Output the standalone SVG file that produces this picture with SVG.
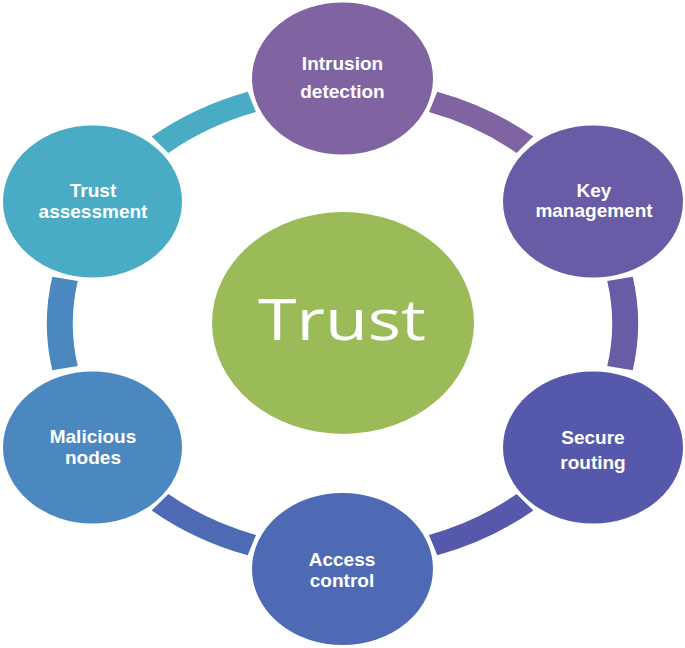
<svg xmlns="http://www.w3.org/2000/svg" width="685" height="648" viewBox="0 0 685 648">
<style>
.band{fill:none;stroke-width:21.5;stroke-linecap:butt}
.node{stroke:#ffffff;stroke-width:2}
.lbl{font-family:"Liberation Sans",Arial,sans-serif;font-weight:bold;font-size:19px;fill:#ffffff;text-anchor:middle}
.big{font-family:"Open Sans","Liberation Sans",sans-serif;font-size:56px;fill:#ffffff;text-anchor:middle}
</style>
<rect width="685" height="648" fill="#ffffff"/>
<g id="connectors" transform="translate(342.5 323.5) scale(1.208 1)">
<path class="band" stroke="#4AABC5" d="M -151.05 -178.73 A 234 234 0 0 1 -75.02 -221.65"/>
<path class="band" stroke="#8064A2" d="M 75.02 -221.65 A 234 234 0 0 1 151.05 -178.73"/>
<path class="band" stroke="#6A5BA6" d="M 229.70 -44.65 A 234 234 0 0 1 229.70 44.65"/>
<path class="band" stroke="#5558AB" d="M 151.05 178.73 A 234 234 0 0 1 75.02 221.65"/>
<path class="band" stroke="#4F6AB5" d="M -75.02 221.65 A 234 234 0 0 1 -151.05 178.73"/>
<path class="band" stroke="#4B88BF" d="M -229.70 44.65 A 234 234 0 0 1 -229.70 -44.65"/>
</g>
<g id="center">
<ellipse cx="343" cy="323" rx="131" ry="111" fill="#9BBB59"/>
<text class="big" x="342" y="340" textLength="168" lengthAdjust="spacingAndGlyphs">Trust</text>
</g>
<g id="intrusion-detection">
<ellipse class="node" cx="342.5" cy="78.5" rx="91.5" ry="77" fill="#8064A2"/>
<text class="lbl" x="342.5" y="70">Intrusion</text>
<text class="lbl" x="342.5" y="98">detection</text>
</g>
<g id="key-management">
<ellipse class="node" cx="593" cy="201.5" rx="91" ry="77" fill="#6A5BA6"/>
<text class="lbl" x="594" y="197">Key</text>
<text class="lbl" x="594" y="217">management</text>
</g>
<g id="secure-routing">
<ellipse class="node" cx="593" cy="447.5" rx="91" ry="77" fill="#5558AB"/>
<text class="lbl" x="593" y="444">Secure</text>
<text class="lbl" x="593" y="469">routing</text>
</g>
<g id="access-control">
<ellipse class="node" cx="342.5" cy="569" rx="91.5" ry="77" fill="#4F6AB5"/>
<text class="lbl" x="342" y="566">Access</text>
<text class="lbl" x="342" y="587">control</text>
</g>
<g id="malicious-nodes">
<ellipse class="node" cx="92.5" cy="447.5" rx="90.5" ry="77" fill="#4B88BF"/>
<text class="lbl" x="93" y="443">Malicious</text>
<text class="lbl" x="93" y="464">nodes</text>
</g>
<g id="trust-assessment">
<ellipse class="node" cx="92.5" cy="201.5" rx="90.5" ry="77" fill="#4AABC5"/>
<text class="lbl" x="93" y="197">Trust</text>
<text class="lbl" x="93" y="218">assessment</text>
</g>
</svg>
